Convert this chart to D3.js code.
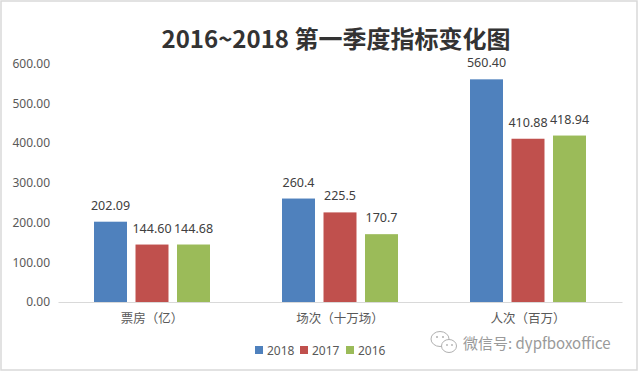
<!DOCTYPE html>
<html><head><meta charset="utf-8">
<script src="https://cdn.jsdelivr.net/npm/d3@7"></script>
<style>html,body{margin:0;padding:0;background:#fff;}svg{display:block;}</style>
</head><body>
<svg id="chart" width="640" height="373"></svg>
<script>
const title = "2016~2018 第一季度指标变化图";
const categories = ["票房（亿）", "场次（十万场）", "人次（百万）"];
const seriesNames = ["2018", "2017", "2016"];
const values2018 = [202.09, 260.4, 560.40];
const values2017 = [144.60, 225.5, 410.88];
const values2016 = [144.68, 170.7, 418.94];
const labels2018 = ["202.09", "260.4", "560.40"];
const labels2017 = ["144.60", "225.5", "410.88"];
const labels2016 = ["144.68", "170.7", "418.94"];
const yTicks = [0, 100, 200, 300, 400, 500, 600];
const colors = ["#4F81BD", "#C0504D", "#9BBB59"];
const watermark = "微信号: dypfboxoffice";

const seriesValues = [values2018, values2017, values2016];
const seriesLabels = [labels2018, labels2017, labels2016];

const svg = d3.select("#chart");
const font = "'Noto Sans', 'Noto Sans CJK SC', sans-serif";

// border
svg.append("rect").attr("x", 1).attr("y", 1).attr("width", 636).attr("height", 369)
  .attr("fill", "#fff").attr("stroke", "#d9d9d9").attr("stroke-width", 1.5);

// title
svg.append("text").attr("x", 336).attr("y", 48).attr("text-anchor", "middle")
  .attr("font-family", "'Noto Sans CJK SC', 'Noto Sans', sans-serif")
  .attr("font-weight", "bold").attr("font-size", 24).attr("fill", "#333")
  .text(title);

const x = d3.scaleBand().domain(categories).range([58, 622]).padding(0);
const inner = d3.scaleBand().domain(seriesNames).range([-58, 58]).paddingInner(0.205).paddingOuter(0);
const y = d3.scaleLinear().domain([0, 600]).range([302, 63.6]);

// y axis labels
const yAxis = svg.append("g").attr("transform", "translate(50,0)")
  .call(d3.axisLeft(y).tickValues(yTicks).tickFormat(d3.format(".2f")).tickSize(0).tickPadding(0));
yAxis.select(".domain").remove();
yAxis.selectAll("text").attr("font-family", font).attr("font-size", 12).attr("fill", "#595959");

// bars
seriesNames.forEach((s, si) => {
  const g = svg.append("g");
  categories.forEach((c, ci) => {
    const cx = x(c) + x.bandwidth() / 2;
    const v = seriesValues[si][ci];
    g.append("rect")
      .attr("x", cx + inner(s)).attr("width", inner.bandwidth())
      .attr("y", y(v)).attr("height", y(0) - y(v))
      .attr("fill", colors[si]);
    g.append("text")
      .attr("x", cx + inner(s) + inner.bandwidth() / 2)
      .attr("y", y(v) - 12)
      .attr("text-anchor", "middle")
      .attr("font-family", font).attr("font-size", 12.5).attr("fill", "#404040")
      .text(seriesLabels[si][ci]);
  });
});

// x axis
const xAxis = svg.append("g").attr("transform", "translate(0,302)")
  .call(d3.axisBottom(x).tickSize(0).tickPadding(12));
xAxis.select(".domain").attr("stroke", "#d9d9d9");
xAxis.selectAll("text").attr("font-family", "'Noto Sans CJK SC', sans-serif")
  .attr("font-size", 12.5).attr("fill", "#595959");

// legend
const legendX = [255, 300, 346];
seriesNames.forEach((s, i) => {
  svg.append("rect").attr("x", legendX[i]).attr("y", 346).attr("width", 8).attr("height", 8).attr("fill", colors[i]);
  svg.append("text").attr("x", legendX[i] + 12).attr("y", 354.5)
    .attr("font-family", font).attr("font-size", 12).attr("fill", "#595959").text(s);
});

// watermark icon
const wm = svg.append("g").attr("fill", "none").attr("stroke", "#b0b0b0").attr("stroke-width", 1);
wm.append("ellipse").attr("cx", 440).attr("cy", 339).attr("rx", 9).attr("ry", 7.5);
wm.append("ellipse").attr("cx", 449).attr("cy", 346).attr("rx", 7.5).attr("ry", 6.5).attr("fill", "#fff");
svg.append("circle").attr("cx", 437).attr("cy", 337).attr("r", 1).attr("fill", "#b0b0b0");
svg.append("circle").attr("cx", 443).attr("cy", 337).attr("r", 1).attr("fill", "#b0b0b0");
svg.append("circle").attr("cx", 447).attr("cy", 345).attr("r", 0.9).attr("fill", "#b0b0b0");
svg.append("circle").attr("cx", 452).attr("cy", 345).attr("r", 0.9).attr("fill", "#b0b0b0");
svg.append("text").attr("x", 463).attr("y", 349)
  .attr("font-family", "'Noto Sans CJK SC', sans-serif").attr("font-size", 15)
  .attr("fill", "#9a9a9a").text(watermark);
</script>
</body></html>
